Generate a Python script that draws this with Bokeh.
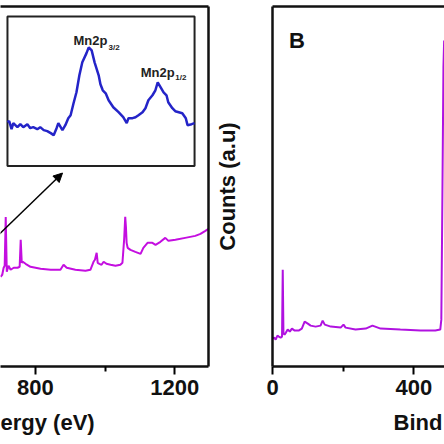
from bokeh.plotting import figure
from bokeh.layouts import row
from bokeh.models import Range1d, LinearAxis, FixedTicker, Label, Arrow, NormalHead, Title
from bokeh.embed import file_html
from bokeh.resources import INLINE
from bokeh.core.properties import value

FONT = "Liberation Sans"

# ---------------- data ----------------
# Panel A (survey, visible part)
survey_a_energy = [700, 705, 709, 712, 715, 718, 723, 729, 738, 749, 755, 758, 761, 764, 772, 786,
                   815, 844, 872, 881, 890, 915, 944, 958, 967, 971, 976, 979, 984, 990, 996, 1004,
                   1016, 1030, 1044, 1050, 1055, 1058, 1060, 1062, 1065, 1073, 1087, 1102, 1110,
                   1122, 1136, 1145, 1159, 1173, 1182, 1202, 1230, 1259, 1274, 1288, 1297]
survey_a_counts = [90, 92, 99, 101, 150, 95, 101, 97, 99, 99, 100, 127, 104, 105, 103, 100,
                   98, 97, 97, 102, 99, 97, 96, 97, 105, 107, 114, 104, 103, 102, 105, 103,
                   102, 101, 102, 104, 128, 150, 140, 124, 119, 117, 115, 113, 119,
                   124, 124, 122, 125, 129, 126, 127, 129, 131, 133, 136, 138]

# Inset: Mn 2p region
inset_energy = [628.0, 628.3, 628.7, 629.0, 629.7, 630.2, 630.7, 631.4, 631.9, 632.4, 633.1, 633.6,
                634.2, 634.8, 635.4, 635.9, 636.4, 636.7, 637.1, 637.4, 637.9, 638.4, 638.8,
                639.3, 639.8, 640.3, 640.8, 641.5, 641.9, 642.4, 642.9, 643.6, 643.9, 644.3,
                644.8, 645.3, 646.1, 647.0, 647.8, 648.4, 648.7, 649.4, 649.9, 650.4, 651.1,
                651.6, 652.1, 652.8, 653.3, 653.7, 654.2, 654.7, 655.2, 655.5, 656.2, 656.7,
                657.3, 657.9, 658.5, 658.8, 659.5, 660.0]
inset_counts = [44, 45, 37, 43, 39, 42, 39, 42, 38, 39, 37, 39,
                36, 35, 33, 31, 38, 43, 39, 36, 41, 48, 51,
                63, 74, 91, 104, 113, 119, 116, 104, 91, 82, 76,
                73, 66, 59, 54, 49, 43, 48, 48, 49, 51, 54,
                58, 66, 71, 76, 84, 79, 74, 71, 64, 58, 55,
                54, 53, 48, 41, 42, 43]

# Panel B (survey, visible part)
survey_b_energy = [0, 5, 9, 14, 18, 23, 27, 29, 31, 34, 38, 43, 49, 55, 63, 74, 83, 91, 100, 108,
                   122, 136, 142, 148, 165, 193, 201, 207, 235, 264, 283, 306, 362, 419, 461,
                   475, 478, 481, 484, 486, 490]
survey_b_counts = [28, 29, 27, 31, 30, 29, 30, 97, 33, 32, 34, 37, 35, 38, 36, 36, 38, 45, 43, 41,
                   40, 41, 46, 42, 40, 39, 42, 39, 37, 38, 41, 38, 37, 36, 36,
                   37, 47, 170, 300, 327, 250]

major_ticks = [0, 400, 800, 1200]
minor_ticks = [200, 600, 1000]
x_title_a = "ergy (eV)"      # visible part of the cropped "Binding Energy (eV)"
x_title_b = "Bind"           # visible part of the cropped "Binding Energy (eV)"
y_title = "Counts (a.u)"
panel_b_letter = "B"
peak_labels = ["Mn2p", "Mn2p"]
peak_subs = ["3/2", "1/2"]

# ---------------- helpers ----------------
def frame_axis(p, side):
    ax = LinearAxis(ticker=FixedTicker(ticks=[]), major_tick_out=0, major_tick_in=0,
                    minor_tick_out=0, minor_tick_in=0, major_label_text_font_size="0px",
                    axis_line_width=2.5, axis_line_color="#111111")
    p.add_layout(ax, side)
    return ax

def style_bottom(p):
    ax = p.xaxis[0]
    ax.ticker = FixedTicker(ticks=major_ticks, minor_ticks=minor_ticks)
    ax.axis_line_width = 2.5
    ax.axis_line_color = "#111111"
    ax.major_tick_line_width = 2
    ax.minor_tick_line_width = 2
    ax.major_tick_out = 8
    ax.major_tick_in = 0
    ax.minor_tick_out = 5
    ax.minor_tick_in = 0
    ax.major_label_text_font = FONT
    ax.major_label_text_font_style = "bold"
    ax.major_label_text_font_size = "22px"
    ax.major_label_text_color = "#111111"
    ax.major_label_standoff = 5

def title(text, align, offset, standoff=10):
    return Title(text=text, align=align, offset=offset, standoff=standoff,
                 text_font=FONT, text_font_style="bold", text_font_size="22px",
                 text_color="#111111")

# ---------------- panel A ----------------
pa = figure(width=210, height=444, x_range=Range1d(700, 1297), y_range=Range1d(0, 361),
            y_axis_location=None, toolbar_location=None, output_backend="svg",
            min_border_left=0, min_border_right=2, min_border_top=6, min_border_bottom=77)
pa.outline_line_color = None
pa.grid.visible = False
style_bottom(pa)
frame_axis(pa, "right")
frame_axis(pa, "above")

pa.line(survey_a_energy, survey_a_counts, line_color="#C40EE0", line_width=2)

sub = pa.subplot(x_source=Range1d(628, 660), y_source=Range1d(0, 150),
                 x_target=Range1d(720, 1257), y_target=Range1d(201, 351))
sub.quad(left=[628], right=[660], bottom=[0], top=[150], fill_color="white",
         line_color="#222222", line_width=2)
sub.line(inset_energy, inset_counts, line_color="#2424C8", line_width=2.5)
sub.text(x=[639.3, 650.8], y=[126, 94], text=peak_labels, text_font=value(FONT),
         text_font_style="bold", text_font_size="13px", text_baseline="alphabetic",
         text_align="left", text_color="#222222")
sub.text(x=[645.3, 656.7], y=[119, 89], text=peak_subs, text_font=value(FONT),
         text_font_style="bold", text_font_size="8px", text_baseline="alphabetic",
         text_align="left", text_color="#222222")

pa.add_layout(Arrow(x_start=671, y_start=124, x_end=878, y_end=194, line_width=1.5,
                    line_color="black",
                    end=NormalHead(size=9, fill_color="black", line_color="black")))

pa.add_layout(title(x_title_a, "left", 0, 20), "below")

# ---------------- panel B ----------------
pb = figure(width=234, height=444, x_range=Range1d(0, 487), y_range=Range1d(0, 361),
            toolbar_location=None, output_backend="svg",
            min_border_left=62, min_border_right=0, min_border_top=6, min_border_bottom=77)
pb.outline_line_color = None
pb.grid.visible = False
style_bottom(pb)
ya = pb.yaxis[0]
ya.ticker = FixedTicker(ticks=[])
ya.major_label_text_font_size = "0px"
ya.major_label_standoff = 0
ya.major_tick_out = 0
ya.minor_tick_out = 0
ya.axis_line_width = 2.5
ya.axis_line_color = "#111111"
frame_axis(pb, "above")

# y-axis title carried by an extra (lineless) left axis
y_title_axis = LinearAxis(ticker=FixedTicker(ticks=[]), major_tick_out=0, minor_tick_out=0,
                          major_label_text_font_size="0px", major_label_standoff=0,
                          axis_line_color=None, axis_label=y_title,
                          axis_label_standoff=33, axis_label_text_font=FONT,
                          axis_label_text_font_style="bold", axis_label_text_font_size="22px",
                          axis_label_text_color="#111111")
pb.add_layout(y_title_axis, "left")

pb.line(survey_b_energy, survey_b_counts, line_color="#B012E0", line_width=2)

pb.add_layout(Label(x=47, y=327, text=panel_b_letter, text_align="left",
                    text_baseline="alphabetic", text_font=FONT, text_font_style="bold",
                    text_font_size="22px", text_color="#111111"))
pb.add_layout(title(x_title_b, "left", 121, 20), "below")

layout = row(pa, pb, spacing=0)
open("out.html", "w").write(file_html(layout, INLINE))
